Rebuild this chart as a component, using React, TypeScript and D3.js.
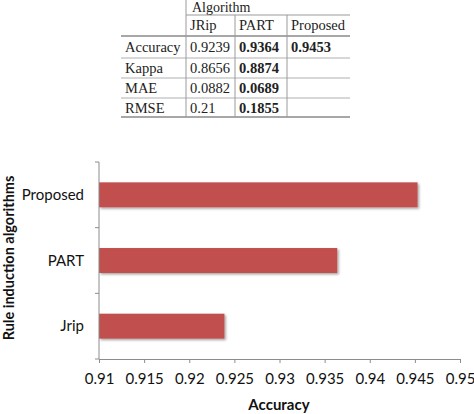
import React, { useEffect, useRef } from 'react';
import * as d3 from 'd3';

// chart data
const categories = ['Proposed', 'PART', 'Jrip'];
const accuracy = [0.9453, 0.9364, 0.9239];
const xTicks = [0.91, 0.915, 0.92, 0.925, 0.93, 0.935, 0.94, 0.945, 0.95];

// table data
const tableHeaders = ['JRip', 'PART', 'Proposed'];
const metrics = ['Accuracy', 'Kappa', 'MAE', 'RMSE'];
const jripValues = ['0.9239', '0.8656', '0.0882', '0.21'];
const partValues = ['0.9364', '0.8874', '0.0689', '0.1855'];
const proposedValues = ['0.9453', '', '', ''];

const W = 474;
const H = 414;

export default function App() {
  const svgRef = useRef<SVGSVGElement>(null);

  useEffect(() => {
    if (!svgRef.current) return;
    const svg = d3.select(svgRef.current);
    svg.selectAll('*').remove();

    const sans = 'Lato, "Open Sans", sans-serif';
    const serif = '"Liberation Serif", "Times New Roman", serif';

    // drop shadow for bars
    const defs = svg.append('defs');
    defs.append('filter')
      .attr('id', 'shadow')
      .attr('x', '-5%').attr('y', '-20%').attr('width', '110%').attr('height', '150%')
      .append('feDropShadow')
      .attr('dx', 1.5).attr('dy', 1.5).attr('stdDeviation', 1)
      .attr('flood-color', '#000').attr('flood-opacity', 0.35);

    // ---- Table ----
    const t = svg.append('g');
    const colX = [186, 235, 287, 350];
    const rowY = [36, 58, 78, 98, 117];
    const lineColor = '#9a9a9a';

    t.append('line').attr('x1', 186).attr('x2', 350).attr('y1', 15).attr('y2', 15)
      .attr('stroke', lineColor).attr('stroke-width', 1.2);
    rowY.forEach((y, i) => {
      t.append('line').attr('x1', 121).attr('x2', 350).attr('y1', y).attr('y2', y)
        .attr('stroke', i === 0 || i === rowY.length - 1 ? '#8a8a8a' : '#b0b0b0')
        .attr('stroke-width', i === 0 || i === rowY.length - 1 ? 1.6 : 1);
    });
    t.append('line').attr('x1', 186).attr('x2', 186).attr('y1', 0).attr('y2', 117)
      .attr('stroke', lineColor);
    [235, 287].forEach(x => {
      t.append('line').attr('x1', x).attr('x2', x).attr('y1', 15).attr('y2', 117)
        .attr('stroke', lineColor);
    });

    t.append('text').attr('x', 192).attr('y', 12).text('Algorithm')
      .style('font-family', serif).style('font-size', '14px').attr('fill', '#222');

    tableHeaders.forEach((h, i) => {
      t.append('text').attr('x', colX[i] + 4).attr('y', 30).text(h)
        .style('font-family', serif).style('font-size', '14.5px').attr('fill', '#222');
    });

    const cols = [jripValues, partValues, proposedValues];
    metrics.forEach((m, r) => {
      const yText = (rowY[r] + rowY[r + 1]) / 2 + 5;
      t.append('text').attr('x', 125).attr('y', yText).text(m)
        .style('font-family', serif).style('font-size', '14.5px').attr('fill', '#222');
      cols.forEach((col, c) => {
        t.append('text').attr('x', colX[c] + 4).attr('y', yText).text(col[r])
          .style('font-family', serif).style('font-size', '14.5px')
          .style('font-weight', c === 0 ? 'normal' : 'bold').attr('fill', '#222');
      });
    });

    // ---- Bar chart ----
    const x = d3.scaleLinear().domain([0.91, 0.95]).range([99, 460]);
    const y = d3.scaleBand().domain(categories).range([162, 359])
      .paddingInner(0.62).paddingOuter(0.31);

    const axisColor = '#8c8c8c';

    svg.append('g').selectAll('rect')
      .data(categories)
      .enter()
      .append('rect')
      .attr('x', x(0.91))
      .attr('y', d => y(d) || 0)
      .attr('width', (d, i) => x(accuracy[i]) - x(0.91))
      .attr('height', y.bandwidth())
      .attr('fill', '#c0504d')
      .attr('filter', 'url(#shadow)');

    // x axis
    const xAxis = svg.append('g')
      .attr('transform', 'translate(0,359)')
      .call(d3.axisBottom(x).tickValues(xTicks).tickSize(4).tickSizeOuter(0)
        .tickFormat(d => String(d)));
    xAxis.select('.domain').attr('stroke', axisColor);
    xAxis.selectAll('.tick line').attr('stroke', axisColor);
    xAxis.selectAll('.tick text')
      .attr('dy', '0')
      .attr('y', 25)
      .style('font-family', sans).style('font-size', '15px').attr('fill', '#111');

    // y axis: ticks at band boundaries
    svg.append('line').attr('x1', 99).attr('x2', 99).attr('y1', 162).attr('y2', 359)
      .attr('stroke', axisColor);
    const boundaries = [162, ...categories.map(c => (y(c) || 0) + y.bandwidth() + y.step() * 0.31)];
    boundaries.forEach(b => {
      svg.append('line').attr('x1', 95).attr('x2', 99).attr('y1', b).attr('y2', b)
        .attr('stroke', axisColor);
    });
    categories.forEach(c => {
      svg.append('text')
        .attr('x', 84)
        .attr('y', (y(c) || 0) + y.bandwidth() / 2 + 5)
        .attr('text-anchor', 'end')
        .text(c)
        .style('font-family', sans).style('font-size', '15px').attr('fill', '#111');
    });

    // axis titles
    svg.append('text').attr('x', 279).attr('y', 410).attr('text-anchor', 'middle')
      .text('Accuracy')
      .style('font-family', sans).style('font-size', '15px').style('font-weight', 'bold')
      .attr('fill', '#111');
    svg.append('text')
      .attr('transform', 'translate(14,258) rotate(-90)')
      .attr('text-anchor', 'middle')
      .text('Rule induction algorithms')
      .style('font-family', sans).style('font-size', '14.5px').style('font-weight', 'bold')
      .attr('fill', '#111');
  }, []);

  return (
    <div style={{ position: 'fixed', left: 0, top: 0, background: '#fff' }}>
      <svg ref={svgRef} width={W} height={H} />
    </div>
  );
}
